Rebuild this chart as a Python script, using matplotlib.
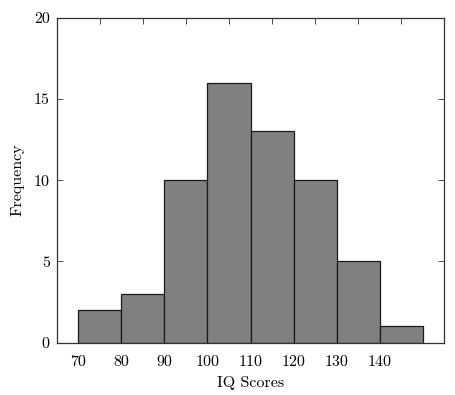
import matplotlib
matplotlib.use("Agg")
import matplotlib.pyplot as plt
import numpy as np

bin_edges = [70, 80, 90, 100, 110, 120, 130, 140, 150]
frequencies = [2, 3, 10, 16, 13, 10, 5, 1]
xtick_labels = [70, 80, 90, 100, 110, 120, 130, 140]
ytick_values = [0, 5, 10, 15, 20]

plt.rcParams['font.family'] = ['cmr10', 'DejaVu Serif']
plt.rcParams['mathtext.fontset'] = 'cm'
plt.rcParams['axes.formatter.use_mathtext'] = True

fig = plt.figure(figsize=(4.56, 3.95), dpi=100)
ax = fig.add_axes([56.7/456, (395-342.7)/395, (444.3-56.7)/456, (342.7-17.7)/395])

lefts = bin_edges[:-1]
widths = np.diff(bin_edges)
ax.bar(lefts, frequencies, width=widths, align='edge', color='#808080',
       edgecolor='#1a1a1a', linewidth=0.9, zorder=2)

ax.set_xlim(65, 155)
ax.set_ylim(0, 20)

fs = 11.5
# tick marks at bin midpoints (no labels), labels at bin edges (no marks)
ax.set_xticks(np.arange(65, 150, 10))
ax.set_xticklabels([])
ax.set_xticks(xtick_labels, minor=True)
ax.set_xticklabels([str(v) for v in xtick_labels], minor=True)
ax.tick_params(axis='x', which='minor', length=0, pad=9, labelsize=fs)
ax.tick_params(axis='x', which='major', direction='in', length=4.3, width=0.6,
               top=True, bottom=True, color='#333333')

ax.set_yticks(ytick_values)
ax.set_yticklabels([str(v) for v in ytick_values])
ax.tick_params(axis='y', direction='in', length=4.3, width=0.6, left=True,
               right=True, labelsize=fs, pad=5, color='#333333')

for s in ax.spines.values():
    s.set_linewidth(0.9)
    s.set_color('#333333')

ax.set_xlabel('IQ Scores', fontsize=fs, labelpad=5)
ax.set_ylabel('Frequency', fontsize=fs, labelpad=7)

fig.savefig('out.png', dpi=100)
